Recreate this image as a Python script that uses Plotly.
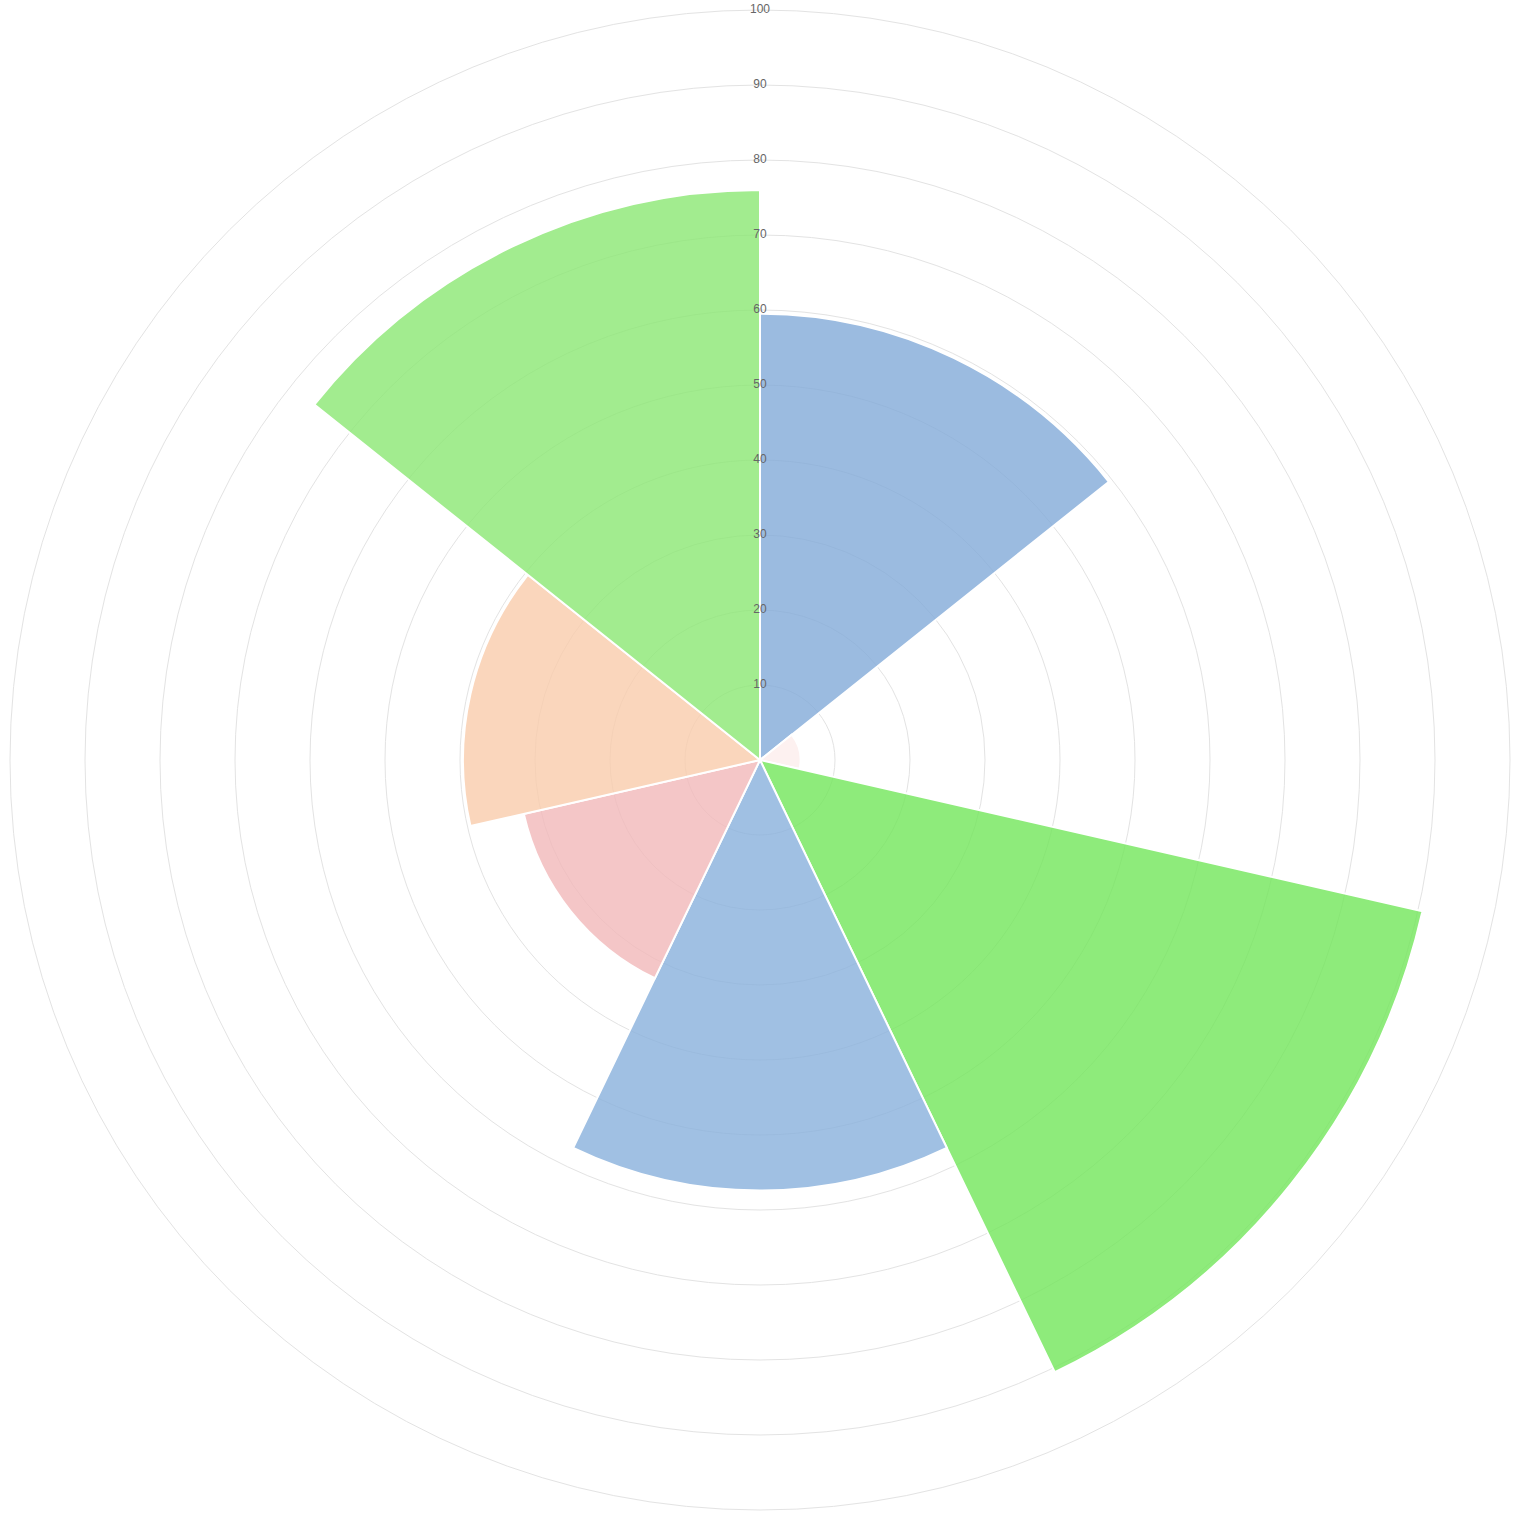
import plotly.graph_objects as go

categories = ["A", "B", "C", "D", "E", "F", "G"]
values = [59.5, 5.4, 90.6, 57.4, 32.3, 39.6, 76.0]
colors = [
    "rgba(130,170,216,0.8)",
    "rgba(252,238,236,0.8)",
    "rgba(114,230,90,0.8)",
    "rgba(136,176,220,0.8)",
    "rgba(241,184,185,0.8)",
    "rgba(249,204,171,0.8)",
    "rgba(139,231,115,0.8)",
]
radial_ticks = [10, 20, 30, 40, 50, 60, 70, 80, 90, 100]

n = len(categories)
width = 360.0 / n
thetas = [width * (i + 0.5) for i in range(n)]

fig = go.Figure()
# radial tick labels, centred on the axis
fig.add_trace(go.Scatterpolar(
    r=radial_ticks,
    theta=[0] * len(radial_ticks),
    mode="text",
    text=[str(t) for t in radial_ticks],
    textposition="middle center",
    textfont=dict(family="Liberation Sans, Arial", size=12, color="#666666"),
    cliponaxis=False,
    hoverinfo="skip",
))
fig.add_trace(go.Barpolar(
    r=values,
    theta=thetas,
    width=[width] * n,
    marker=dict(color=colors, line=dict(color="white", width=2)),
    hovertext=categories,
))

fig.update_layout(
    width=1520, height=1520,
    margin=dict(l=10, r=10, t=10, b=10),
    paper_bgcolor="white",
    showlegend=False,
    polar=dict(
        bgcolor="white",
        domain=dict(x=[0, 1], y=[0, 1]),
        radialaxis=dict(
            range=[0, 100],
            tickvals=radial_ticks,
            angle=90,
            showline=False,
            showticklabels=False,
            ticks="",
            gridcolor="#e3e3e3",
            gridwidth=1,
            layer="below traces",
        ),
        angularaxis=dict(
            rotation=90,
            direction="clockwise",
            showgrid=False,
            showline=True,
            linecolor="#e3e3e3",
            linewidth=1,
            showticklabels=False,
            ticks="",
            layer="below traces",
        ),
    ),
)

fig.write_html(
    "out.html",
    config={"displayModeBar": False},
    post_script="document.body.style.margin='0';",
)
